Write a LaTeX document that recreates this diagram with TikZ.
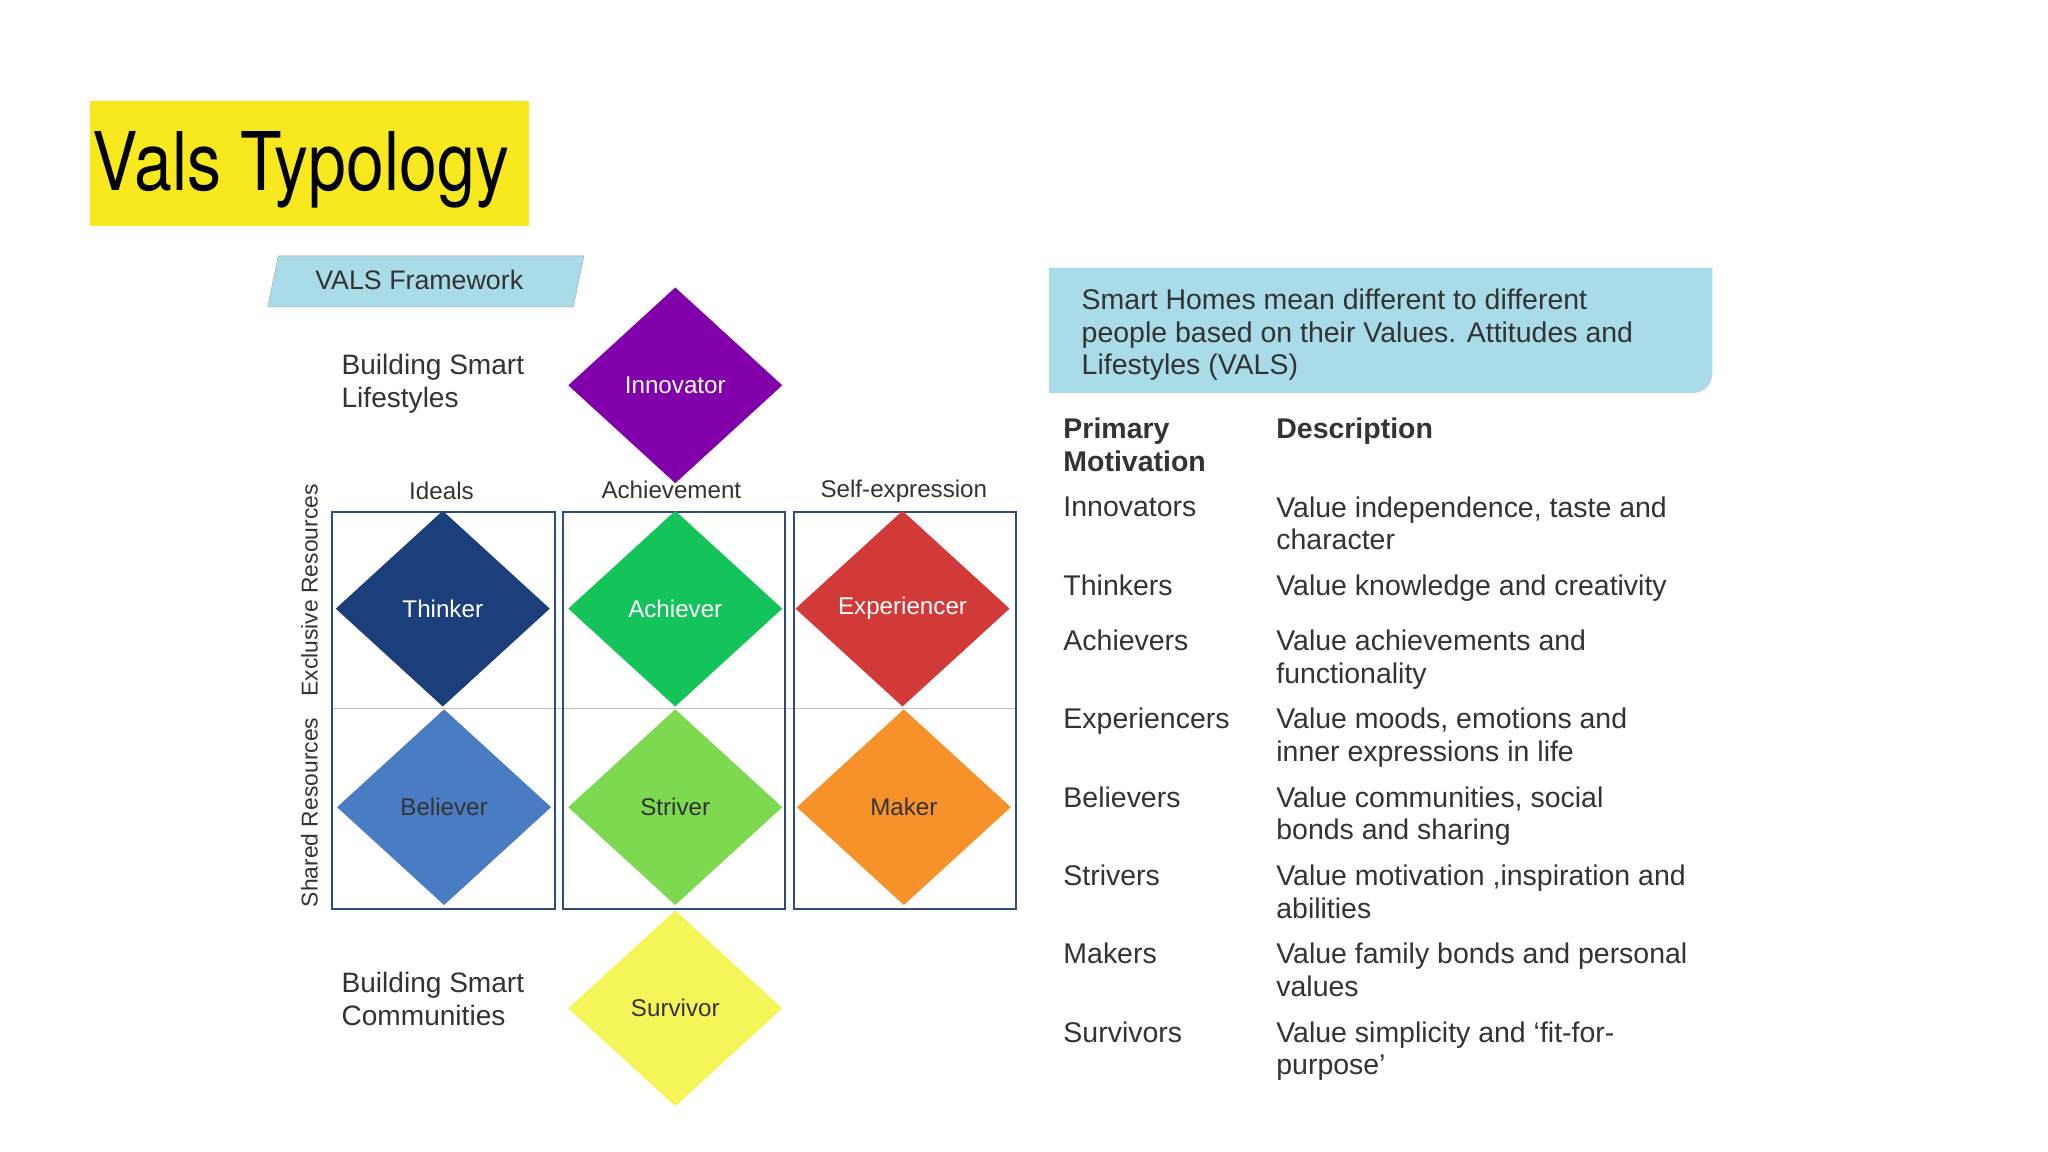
\documentclass[tikz,border=0pt]{standalone}
\usepackage{fontspec}
\setmainfont{Liberation Sans}
\newfontfamily\titlefont{TeX Gyre Heros}
\usetikzlibrary{shapes.geometric}
\definecolor{txt}{HTML}{333333}
\definecolor{lblue}{HTML}{A9DCE8}
\definecolor{frame}{HTML}{2E4D7A}
\begin{document}
\begin{tikzpicture}[x=1pt,y=-1pt,
 dia/.style={diamond,minimum width=164pt,minimum height=150pt,inner sep=0pt,font=\fontsize{18.5}{20}\selectfont,aspect=1.1},
 lab/.style={font=\fontsize{21.5}{25}\selectfont,text=txt,anchor=west,align=left},
 cl/.style={font=\fontsize{18.5}{20}\selectfont,text=txt},
 tb/.style={font=\fontsize{21.8}{25}\selectfont,text=txt,anchor=north west,align=left,inner sep=0pt},
 box/.style={draw=frame,line width=1.5pt}]
\useasboundingbox (0,0) rectangle (1568,882);
\fill[white] (0,0) rectangle (1568,882);
% title
\node[fill={rgb,255:red,247;green,233;blue,30},minimum width=336pt,minimum height=96pt,inner sep=0pt] (title) at (237,125) {};
\node[anchor=west,inner sep=0pt] (titletext) at (71,130) {\titlefont\fontsize{62}{70}\selectfont\scalebox{0.84}[1]{Vals Typology}};
% framework label
\fill[lblue,draw=gray!60] (213,196) -- (447,196) -- (439,235) -- (205,235) -- cycle;
\node[font=\fontsize{20.5}{22}\selectfont,text=txt] (vf) at (321,214) {VALS Framework};
\node[lab] (bsl) at (258,294) {Building Smart\\Lifestyles};
\node[lab] (bsc) at (258,765) {Building Smart\\Communities};
% columns
\node[cl] (c1) at (338,376) {Ideals};
\node[cl] (c2) at (514,375) {Achievement};
\node[cl] (c3) at (692,376) {Self-expression};
\draw[gray!50] (254,542) -- (778,542);
\draw[box] (254,392) rectangle (425,696);
\draw[box] (431,392) rectangle (601,696);
\draw[box] (608,392) rectangle (778,696);
\node[rotate=90,font=\fontsize{17.5}{18}\selectfont,text=txt] (er) at (237,452) {Exclusive Resources};
\node[rotate=90,font=\fontsize{17.5}{18}\selectfont,text=txt] (sr) at (237,622) {Shared Resources};
% diamonds
\node[dia,fill={rgb,255:red,128;green,0;blue,170},text=white] (inn) at (517,295) {Innovator};
\node[dia,fill={rgb,255:red,28;green,62;blue,122},text=white] (thi) at (339,466) {Thinker};
\node[dia,fill={rgb,255:red,20;green,196;blue,90},text=white] (ach) at (517,466) {Achiever};
\node[dia,fill={rgb,255:red,210;green,58;blue,58},text=white] (exp) at (691,466) {Experiencer};
\node[dia,fill={rgb,255:red,74;green,124;blue,196},text=txt] (bel) at (340,618) {Believer};
\node[dia,fill={rgb,255:red,125;green,217;blue,80},text=txt] (str) at (517,618) {Striver};
\node[dia,fill={rgb,255:red,247;green,146;blue,42},text=txt] (mak) at (692,618) {Maker};
\node[dia,fill={rgb,255:red,245;green,245;blue,90},text=txt] (sur) at (517,772) {Survivor};
% right box
\fill[lblue] (803,205) -- (1311,205) -- (1311,286) arc[start angle=0,end angle=90,radius=15] -- (803,301) -- cycle;
\node[tb] (hd) at (828,221) {Smart Homes mean different to different\\people based on their Values. Attitudes and\\Lifestyles (VALS)};
\node[tb,font=\bfseries\fontsize{21.8}{25}\selectfont] (h1) at (814,320) {Primary\\Motivation};
\node[tb,font=\bfseries\fontsize{21.8}{25}\selectfont] (h2) at (977,320) {Description};
\foreach \y/\a/\b [count=\i] in {
 380/Innovators/{Value independence, taste and\\character},
 440/Thinkers/{Value knowledge and creativity},
 482/Achievers/{Value achievements and\\functionality},
 542/Experiencers/{Value moods, emotions and\\inner expressions in life},
 602/Believers/{Value communities, social\\bonds and sharing},
 662/Strivers/{Value motivation ,inspiration and\\abilities},
 722/Makers/{Value family bonds and personal\\values},
 782/Survivors/{Value simplicity and `fit-for-\\purpose'}}{
 \node[tb] (m\i) at (814,\y) {\a};
 \node[tb] (d\i) at (977,\y) {\b};
}
\end{tikzpicture}
\end{document}
